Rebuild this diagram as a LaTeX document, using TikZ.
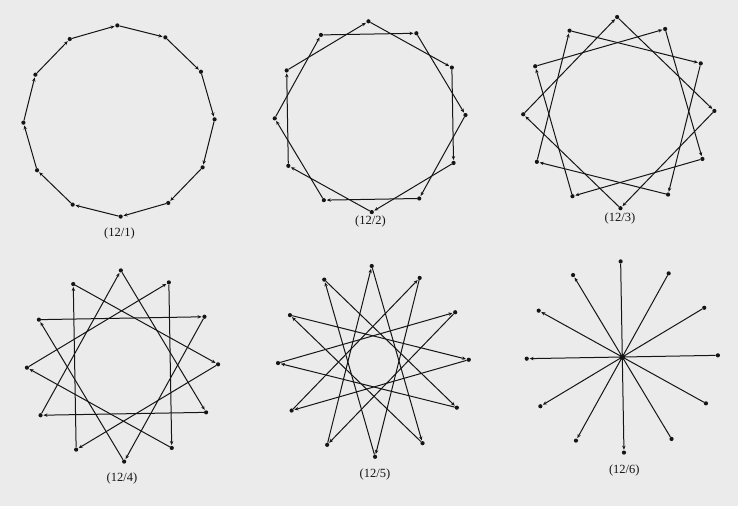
\documentclass[tikz,border=0pt]{standalone}
\usepackage{fontspec}
\setmainfont{Liberation Serif}
\usetikzlibrary{arrows.meta}
\definecolor{bg}{HTML}{EBEBEB}
\definecolor{ink}{HTML}{151515}
\tikzset{
  vdot/.style={circle,fill=ink,inner sep=0pt,minimum size=4.2pt},
  cdot/.style={circle,fill=ink,inner sep=0pt,minimum size=5.5pt},
  edge/.style={draw=ink,line width=1pt,-{Stealth[length=4pt,width=3.4pt]},shorten >=0.6pt},
  lbl/.style={font=\fontsize{12.5}{14}\selectfont,text=ink,inner sep=0pt}
}
\newcommand\mkverts[4]{%
  \foreach \k in {0,...,11}{%
    \node[vdot] (#1-\k) at ({#2+#4*cos(91-30*\k)},{#3-#4*sin(91-30*\k)}) {};
  }}
\newcommand\mkedges[3]{% name, step, count
  \foreach \k in {0,...,#3}{%
    \pgfmathtruncatemacro\m{mod(\k+#2,12)}%
    \draw[edge] (#1-\k) -- (#1-\m);
  }}
\begin{document}
\begin{tikzpicture}[x=1pt,y=-1pt]
\fill[bg] (0,0) rectangle (738,506);
\useasboundingbox (0,0) rectangle (738,506);

\mkverts{a}{119}{121}{95.6}
\mkedges{a}{1}{11}
\node[lbl] (la) at (119.5,233.5) {(12/1)};

\mkverts{b}{370.1}{116.7}{95.4}
\mkedges{b}{2}{11}
\node[lbl] (lb) at (370.5,221.5) {(12/2)};

\mkverts{c}{618.8}{112.6}{95.6}
\mkedges{c}{3}{11}
\node[lbl] (lc) at (620,218.3) {(12/3)};

\mkverts{d}{122.5}{366}{95.6}
\mkedges{d}{4}{11}
\node[lbl] (ld) at (122,478.5) {(12/4)};

\mkverts{e}{373.4}{361.4}{95.4}
\mkedges{e}{5}{11}
\node[lbl] (le) at (375,474.5) {(12/5)};

\mkverts{f}{622.3}{357}{95.6}
\node[cdot] (fc) at (622.3,357.2) {};
\mkedges{f}{6}{5}
\node[lbl] (lf) at (624.3,470) {(12/6)};
\end{tikzpicture}
\end{document}
